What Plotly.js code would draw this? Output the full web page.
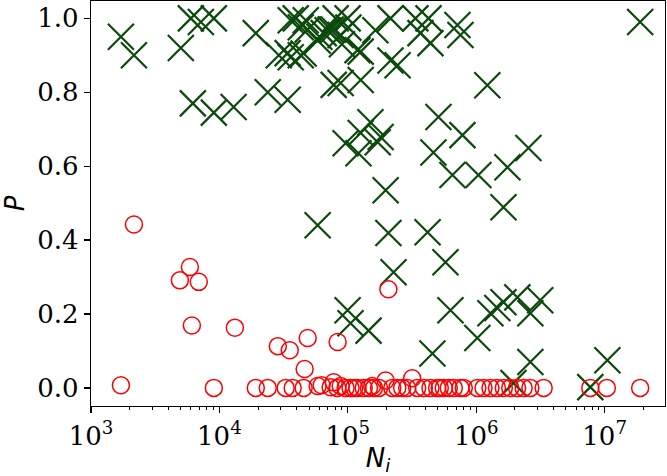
<!DOCTYPE html>
<html>
<head>
<meta charset="utf-8">
<script src="https://cdn.plot.ly/plotly-3.0.1.min.js"></script>
<style>
  html, body { margin: 0; padding: 0; background: #fff; }
  #chart { width: 667px; height: 476px; }
</style>
</head>
<body>
<div id="chart"></div>
<script>
// === ДАННЫЕ ===
// крестики: N_i и P
const crossN = [
  1710, 2160, 5010, 5990, 7170, 9050, 6210, 9050, 12900, 23800,
  34000, 19200, 35900, 29000, 35900, 45300, 43000, 48700, 58200, 64900,
  73500, 77600, 39300, 47000, 80400, 99600, 69600, 119000, 164000, 87900,
  126000, 150000, 96100, 121000, 171000, 180000, 126000, 197000, 58200, 207000,
  418000, 576000, 227000, 336000, 425000, 368000, 714000, 754000, 440000, 215000,
  244000, 508000, 781000, 464000, 653000, 1040000, 1750000, 2550000, 1630000, 1220000,
  18900000, 99600, 105000, 145000, 630000, 456000, 1020000, 1290000, 1460000, 1630000,
  2090000, 2640000, 3150000, 2640000, 1950000, 7730000, 10500000, 43000, 34000, 77600,
  87900, 101000, 126000, 215000, 60000, 90000
];
const crossP = [
  0.95, 0.90, 0.92, 1.00, 0.99, 1.00, 0.77, 0.745, 0.76, 0.80,
  0.78, 0.96, 0.995, 0.90, 0.895, 0.905, 0.976, 0.97, 0.94, 0.96,
  0.97, 0.82, 1.00, 0.995, 1.00, 1.00, 0.968, 0.914, 0.968, 0.825,
  0.833, 0.719, 0.662, 0.635, 0.665, 0.679, 0.69, 0.535, 0.44, 0.419,
  0.421, 0.34, 0.313, 1.00, 1.00, 0.96, 0.982, 0.955, 0.933, 0.886,
  0.873, 0.733, 0.684, 0.637, 0.576, 0.576, 0.597, 0.649, 0.489, 0.819,
  0.99, 0.21, 0.175, 0.155, 0.21, 0.093, 0.135, 0.202, 0.216, 0.232,
  0.245, 0.202, 0.237, 0.07, 0.013, 0.002, 0.075, 0.90, 0.906, 0.97,
  0.955, 0.975, 0.91, 1.00, 0.95, 0.93
];

// кружки: N_i и P
const circleN = [
  1710, 2160, 4920, 5890, 6910, 6100, 9050, 13200, 19200, 23800,
  28500, 35300, 48700, 46100, 32800, 37200, 45300, 58200, 62500, 73500,
  77600, 83300, 82800, 96100, 105000, 118600, 133000, 146000, 160000, 175000,
  197000, 222000, 243000, 265000, 317000, 347000, 391000, 440000, 496000, 559000,
  611000, 669000, 754000, 800000, 1020000, 1140000, 1290000, 1450000, 1640000, 1840000,
  2080000, 2340000, 2640000, 3350000, 7730000, 10400000, 18900000, 207000, 88000, 112000,
  155000, 290000, 520000
];
const circleP = [
  0.007, 0.442, 0.291, 0.327, 0.287, 0.169, 0.0, 0.163, 0.0, 0.0,
  0.113, 0.102, 0.135, 0.051, 0.0, 0.0, 0.0, 0.005, 0.007, 0.002,
  0.015, 0.124, 0.0, 0.0, 0.0, 0.0, 0.0, 0.0, 0.0, 0.0,
  0.02, 0.0, 0.0, 0.0, 0.026, 0.0, 0.0, 0.0, 0.0, 0.0,
  0.0, 0.0, 0.0, 0.0, 0.0, 0.0, 0.0, 0.0, 0.0, 0.0,
  0.0, 0.0, 0.0, 0.0, 0.0, 0.0, 0.0, 0.267, 0.005, 0.0,
  0.005, 0.0, 0.0
];

const xTickVals = [1e3, 1e4, 1e5, 1e6, 1e7];
const xTickText = ['10<sup>3</sup>', '10<sup>4</sup>', '10<sup>5</sup>', '10<sup>6</sup>', '10<sup>7</sup>'];
const yTickVals = [0.0, 0.2, 0.4, 0.6, 0.8, 1.0];
const yTickText = ['0.0', '0.2', '0.4', '0.6', '0.8', '1.0'];

// === ПОСТРОЕНИЕ ===
const traceCross = {
  x: crossN,
  y: crossP,
  type: 'scatter',
  mode: 'markers',
  marker: {
    symbol: 'x-thin-open',
    size: 26,
    color: '#0b4a0b',
    line: { color: '#0b4a0b', width: 2.2 }
  },
  hoverinfo: 'x+y'
};

const traceCircle = {
  x: circleN,
  y: circleP,
  type: 'scatter',
  mode: 'markers',
  marker: {
    symbol: 'circle-open',
    size: 17,
    color: '#ff0000',
    line: { color: '#ff0000', width: 1.5 }
  },
  hoverinfo: 'x+y'
};

const tickFont = { family: 'DejaVu Serif', size: 26, color: '#000' };

const layout = {
  width: 667,
  height: 476,
  margin: { l: 91, r: 2, t: 1, b: 70 },
  paper_bgcolor: '#fff',
  plot_bgcolor: '#fff',
  showlegend: false,
  xaxis: {
    type: 'log',
    range: [3, 7.47],
    tickvals: xTickVals,
    ticktext: xTickText,
    showgrid: false,
    zeroline: false,
    showline: true,
    mirror: true,
    linecolor: '#000',
    linewidth: 1.3,
    ticks: 'outside',
    ticklen: 6,
    tickwidth: 1.3,
    tickcolor: '#000',
    tickfont: tickFont,
    minor: { ticks: 'outside', ticklen: 3, tickwidth: 1, tickcolor: '#000', dtick: 'D1', showgrid: false },
    title: {
      text: '<i>N<sub>i</sub></i>',
      font: { family: 'DejaVu Sans', size: 26, color: '#000' },
      standoff: 4
    }
  },
  yaxis: {
    range: [-0.049, 1.047],
    tickvals: yTickVals,
    ticktext: yTickText,
    showgrid: false,
    zeroline: false,
    showline: true,
    mirror: true,
    linecolor: '#000',
    linewidth: 1.3,
    ticks: 'outside',
    ticklen: 6,
    tickwidth: 1.3,
    tickcolor: '#000',
    tickfont: tickFont,
    title: {
      text: '<i>P</i>',
      font: { family: 'DejaVu Sans', size: 26, color: '#000' },
      standoff: 6
    }
  }
};

Plotly.newPlot('chart', [traceCross, traceCircle], layout, { displayModeBar: false, staticPlot: true });
</script>
</body>
</html>
